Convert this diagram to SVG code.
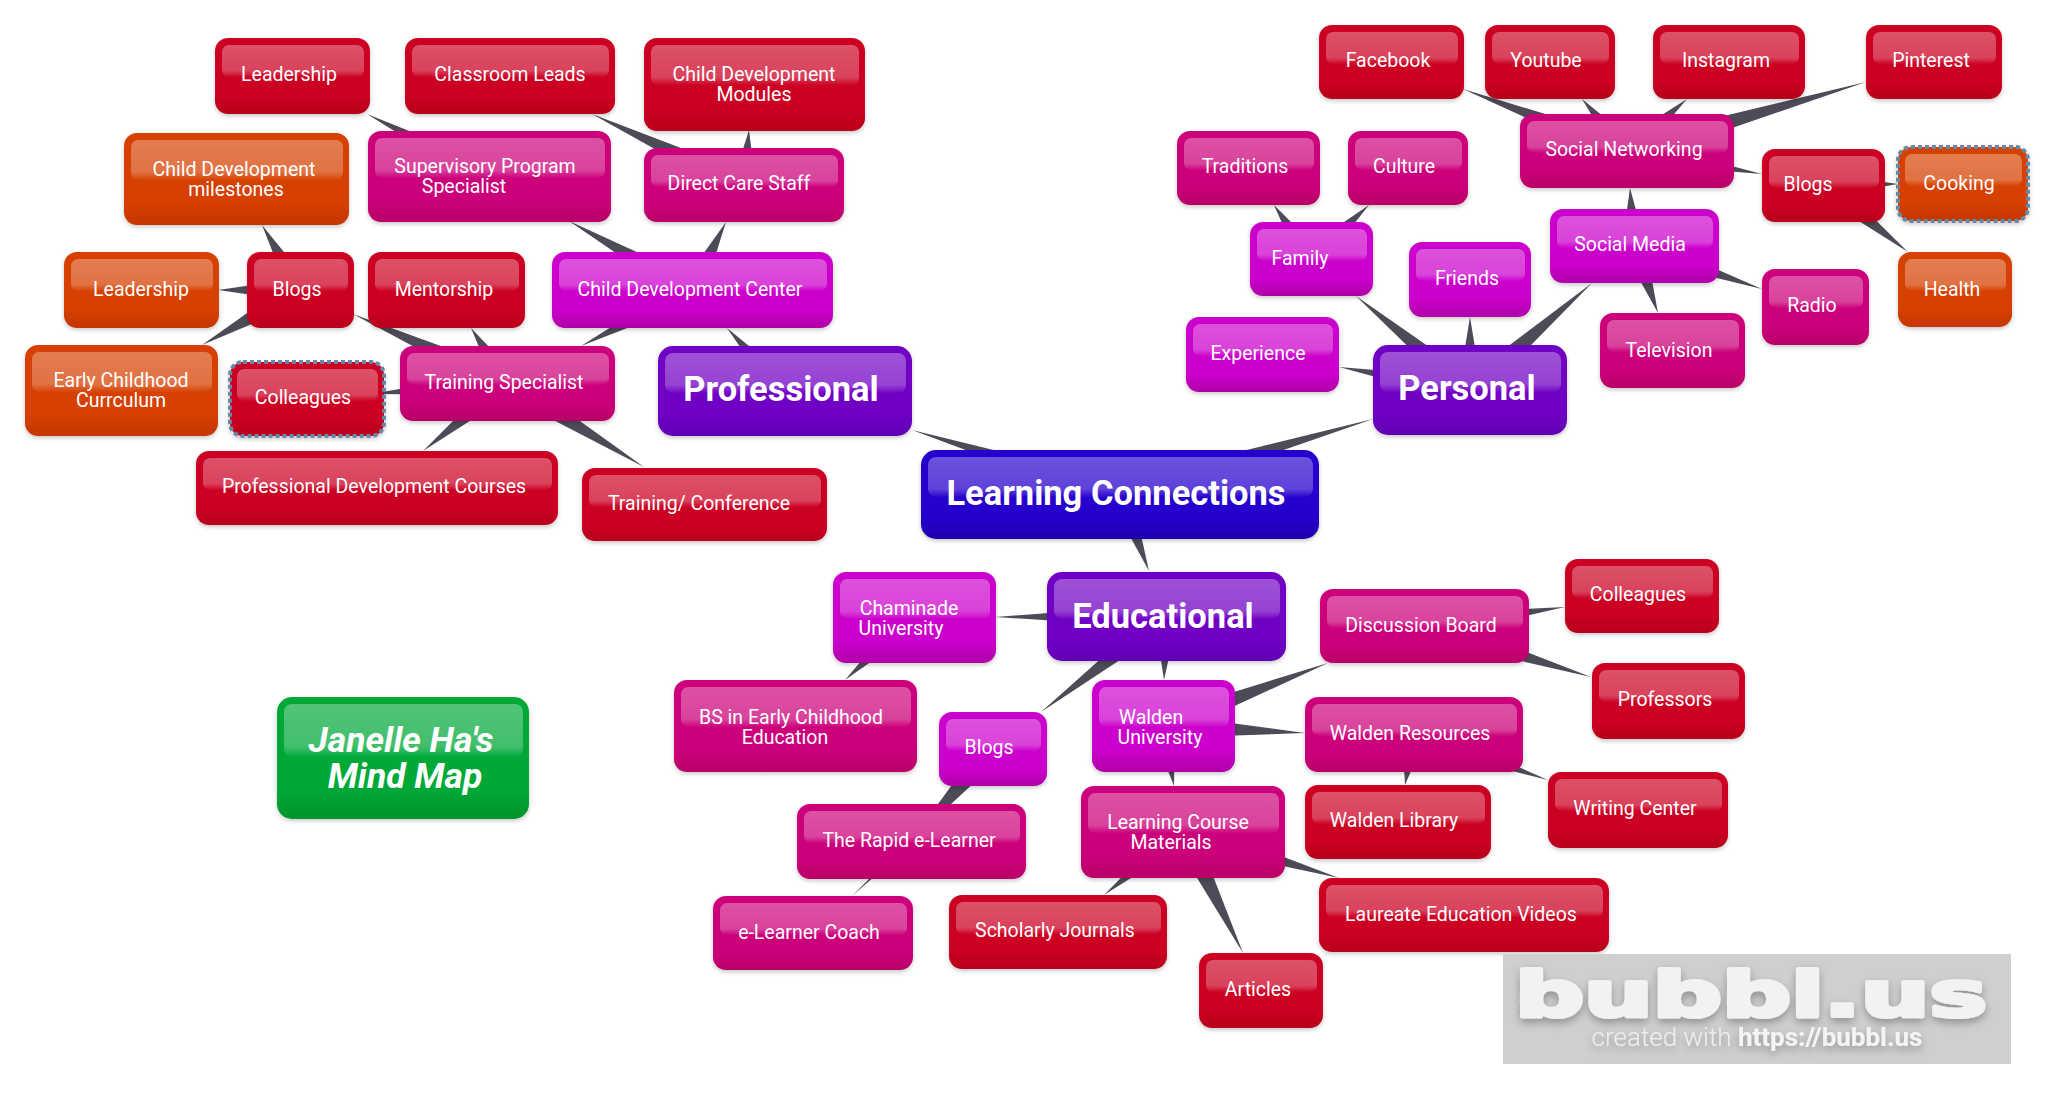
<svg xmlns="http://www.w3.org/2000/svg" width="2048" height="1101" viewBox="0 0 2048 1101">
<style>
text{font-family:Roboto,"Liberation Sans",sans-serif;fill:#fff;text-anchor:middle;font-size:19.5px}
.h1 text{font-size:34.5px;font-weight:700}
.h2 text{font-size:35.5px;font-weight:700;font-style:italic}
.body{filter:url(#sh)}
.gloss{fill:url(#gloss)}
.red{fill:url(#gRed)}.pink{fill:url(#gPink)}.mag{fill:url(#gMag)}.pur{fill:url(#gPur)}.blue{fill:url(#gBlue)}.ora{fill:url(#gOra)}.gre{fill:url(#gGre)}
.dot{stroke:#6488a8;stroke-width:4;stroke-dasharray:4 3}
#connectors polygon{fill:#4c4c58}
</style>
<defs>
<filter id="sh" x="-10%" y="-10%" width="120%" height="125%"><feDropShadow dx="0" dy="2" stdDeviation="2" flood-color="#000" flood-opacity=".22"/></filter>
<filter id="wm" x="-5%" y="-20%" width="110%" height="150%"><feDropShadow dx="0" dy="4" stdDeviation="4" flood-color="#000" flood-opacity=".3"/></filter>
<linearGradient id="gloss" x1="0" y1="0" x2="0" y2="1"><stop offset="0" stop-color="#fff" stop-opacity=".32"/><stop offset=".8" stop-color="#fff" stop-opacity=".26"/><stop offset="1" stop-color="#fff" stop-opacity=".02"/></linearGradient>
<linearGradient id="gRed" x1="0" y1="0" x2="0" y2="1"><stop offset="0" stop-color="#cc0022"/><stop offset=".75" stop-color="#cc0022"/><stop offset="1" stop-color="#b8001c"/></linearGradient>
<linearGradient id="gPink" x1="0" y1="0" x2="0" y2="1"><stop offset="0" stop-color="#cc007a"/><stop offset=".75" stop-color="#cc007a"/><stop offset="1" stop-color="#b80068"/></linearGradient>
<linearGradient id="gMag" x1="0" y1="0" x2="0" y2="1"><stop offset="0" stop-color="#cc00cc"/><stop offset=".75" stop-color="#cc00cc"/><stop offset="1" stop-color="#b000a8"/></linearGradient>
<linearGradient id="gPur" x1="0" y1="0" x2="0" y2="1"><stop offset="0" stop-color="#7000c4"/><stop offset=".75" stop-color="#7000c4"/><stop offset="1" stop-color="#6000b4"/></linearGradient>
<linearGradient id="gBlue" x1="0" y1="0" x2="0" y2="1"><stop offset="0" stop-color="#2600cc"/><stop offset=".75" stop-color="#2600cc"/><stop offset="1" stop-color="#1e00b0"/></linearGradient>
<linearGradient id="gOra" x1="0" y1="0" x2="0" y2="1"><stop offset="0" stop-color="#d64000"/><stop offset=".75" stop-color="#d64000"/><stop offset="1" stop-color="#c43600"/></linearGradient>
<linearGradient id="gGre" x1="0" y1="0" x2="0" y2="1"><stop offset="0" stop-color="#00a838"/><stop offset=".75" stop-color="#00a838"/><stop offset="1" stop-color="#00942c"/></linearGradient>
</defs>
<rect width="2048" height="1101" fill="#fff"/>
<g id="connectors">
<polygon points="1124,482 1116,506 912,430"/>
<polygon points="1123,506 1117,482 1373,419"/>
<polygon points="1109,498 1131,490 1149,571"/>
<polygon points="794,383 776,399 727,328"/>
<polygon points="687,279 697,301 581,346"/>
<polygon points="698,280 686,301 569,221"/>
<polygon points="703,295 681,285 726,222"/>
<polygon points="756,186 732,184 749,130"/>
<polygon points="749,174 739,196 592,114"/>
<polygon points="494,165 484,187 367,114"/>
<polygon points="512,372 502,394 353,314"/>
<polygon points="517,376 497,390 471,328"/>
<polygon points="506,371 508,395 370,394"/>
<polygon points="500,374 515,392 423,451"/>
<polygon points="501,393 513,373 644,467"/>
<polygon points="310,284 290,296 262,225"/>
<polygon points="300,278 300,302 218,290"/>
<polygon points="294,280 306,301 202,345"/>
<polygon points="1472,378 1468,402 1339,367"/>
<polygon points="1478,381 1462,399 1356,296"/>
<polygon points="1482,390 1458,390 1470,317"/>
<polygon points="1478,399 1462,381 1592,283"/>
<polygon points="1321,252 1301,266 1274,205"/>
<polygon points="1319,268 1303,250 1369,205"/>
<polygon points="1646,247 1622,245 1630,188"/>
<polygon points="1623,250 1645,242 1658,313"/>
<polygon points="1630,257 1638,235 1762,289"/>
<polygon points="1631,140 1623,162 1463,89"/>
<polygon points="1636,143 1618,159 1582,99"/>
<polygon points="1635,160 1619,142 1687,99"/>
<polygon points="1630,163 1624,140 1866,82"/>
<polygon points="1625,163 1629,139 1762,174"/>
<polygon points="1823,197 1823,173 1898,184"/>
<polygon points="1816,194 1831,176 1908,252"/>
<polygon points="1166,604 1166,628 995,617"/>
<polygon points="1178,616 1154,616 1164,680"/>
<polygon points="1159,607 1173,625 1041,712"/>
<polygon points="906,608 922,626 845,680"/>
<polygon points="984,741 1002,757 911,841"/>
<polygon points="909,839 913,843 852,896"/>
<polygon points="1167,737 1159,715 1328,663"/>
<polygon points="1163,714 1163,738 1305,733"/>
<polygon points="1151,728 1175,724 1174,786"/>
<polygon points="1427,638 1423,614 1565,607"/>
<polygon points="1421,638 1429,614 1591,677"/>
<polygon points="1402,732 1426,736 1405,785"/>
<polygon points="1410,745 1418,723 1548,780"/>
<polygon points="1175,823 1190,841 1104,895"/>
<polygon points="1180,844 1186,820 1339,878"/>
<polygon points="1172,837 1194,827 1243,953"/>
</g>
<g id="n-learning-connections" class="h1"><rect class="body blue" x="921" y="450" width="398" height="89" rx="15"/><rect class="gloss" x="928" y="457" width="385" height="40" rx="8"/><text x="1116" y="505">Learning Connections</text></g>
<g id="n-professional" class="h1"><rect class="body pur" x="658" y="346" width="254" height="90" rx="15"/><rect class="gloss" x="665" y="353" width="241" height="40" rx="8"/><text x="781" y="401">Professional</text></g>
<g id="n-personal" class="h1"><rect class="body pur" x="1373" y="345" width="194" height="90" rx="15"/><rect class="gloss" x="1380" y="352" width="181" height="40" rx="8"/><text x="1467" y="400">Personal</text></g>
<g id="n-educational" class="h1"><rect class="body pur" x="1047" y="572" width="239" height="89" rx="15"/><rect class="gloss" x="1054" y="579" width="226" height="40" rx="8"/><text x="1163" y="628">Educational</text></g>
<g id="n-title" class="h2"><rect class="body gre" x="277" y="697" width="252" height="122" rx="15"/><rect class="gloss" x="284" y="704" width="239" height="53" rx="8"/><text x="401" y="752">Janelle Ha's</text><text x="405" y="788">Mind Map</text></g>
<g id="n-leadership-top"><rect class="body red" x="215" y="38" width="155" height="76" rx="13"/><rect class="gloss" x="222" y="45" width="142" height="32" rx="7"/><text x="289" y="81">Leadership</text></g>
<g id="n-classroom-leads"><rect class="body red" x="405" y="38" width="210" height="76" rx="13"/><rect class="gloss" x="412" y="45" width="197" height="32" rx="7"/><text x="510" y="81">Classroom Leads</text></g>
<g id="n-cd-modules"><rect class="body red" x="644" y="38" width="221" height="93" rx="13"/><rect class="gloss" x="651" y="45" width="208" height="40" rx="7"/><text x="754" y="81">Child Development</text><text x="754" y="101">Modules</text></g>
<g id="n-supervisory"><rect class="body pink" x="368" y="131" width="243" height="91" rx="13"/><rect class="gloss" x="375" y="138" width="230" height="40" rx="7"/><text x="485" y="173">Supervisory Program</text><text x="464" y="193">Specialist</text></g>
<g id="n-direct-care"><rect class="body pink" x="644" y="148" width="200" height="74" rx="13"/><rect class="gloss" x="651" y="155" width="187" height="32" rx="7"/><text x="739" y="190">Direct Care Staff</text></g>
<g id="n-cd-milestones"><rect class="body ora" x="124" y="133" width="225" height="92" rx="13"/><rect class="gloss" x="131" y="140" width="212" height="40" rx="7"/><text x="234" y="176">Child Development</text><text x="236" y="196">milestones</text></g>
<g id="n-blogs-left"><rect class="body red" x="247" y="252" width="107" height="76" rx="13"/><rect class="gloss" x="254" y="259" width="94" height="32" rx="7"/><text x="297" y="296">Blogs</text></g>
<g id="n-leadership-left"><rect class="body ora" x="64" y="252" width="155" height="76" rx="13"/><rect class="gloss" x="71" y="259" width="142" height="32" rx="7"/><text x="141" y="296">Leadership</text></g>
<g id="n-mentorship"><rect class="body red" x="368" y="252" width="157" height="76" rx="13"/><rect class="gloss" x="375" y="259" width="144" height="32" rx="7"/><text x="444" y="296">Mentorship</text></g>
<g id="n-cd-center"><rect class="body mag" x="552" y="252" width="281" height="76" rx="13"/><rect class="gloss" x="559" y="259" width="268" height="32" rx="7"/><text x="690" y="296">Child Development Center</text></g>
<g id="n-early-childhood"><rect class="body ora" x="25" y="345" width="193" height="91" rx="13"/><rect class="gloss" x="32" y="352" width="180" height="40" rx="7"/><text x="121" y="387">Early Childhood</text><text x="121" y="407">Currculum</text></g>
<g id="n-colleagues-left"><rect class="body red dot" x="230" y="362" width="154" height="74" rx="13"/><rect class="gloss" x="237" y="369" width="141" height="32" rx="7"/><text x="303" y="404">Colleagues</text></g>
<g id="n-training-specialist"><rect class="body pink" x="400" y="346" width="215" height="75" rx="13"/><rect class="gloss" x="407" y="353" width="202" height="32" rx="7"/><text x="504" y="389">Training Specialist</text></g>
<g id="n-pd-courses"><rect class="body red" x="196" y="451" width="362" height="74" rx="13"/><rect class="gloss" x="203" y="458" width="349" height="32" rx="7"/><text x="374" y="493">Professional Development Courses</text></g>
<g id="n-training-conf"><rect class="body red" x="582" y="468" width="245" height="73" rx="13"/><rect class="gloss" x="589" y="475" width="232" height="32" rx="7"/><text x="699" y="510">Training/ Conference</text></g>
<g id="n-experience"><rect class="body mag" x="1186" y="317" width="153" height="75" rx="13"/><rect class="gloss" x="1193" y="324" width="140" height="32" rx="7"/><text x="1258" y="360">Experience</text></g>
<g id="n-friends"><rect class="body mag" x="1409" y="242" width="122" height="75" rx="13"/><rect class="gloss" x="1416" y="249" width="109" height="32" rx="7"/><text x="1467" y="285">Friends</text></g>
<g id="n-family"><rect class="body mag" x="1250" y="222" width="123" height="74" rx="13"/><rect class="gloss" x="1257" y="229" width="110" height="32" rx="7"/><text x="1300" y="265">Family</text></g>
<g id="n-traditions"><rect class="body pink" x="1177" y="131" width="143" height="74" rx="13"/><rect class="gloss" x="1184" y="138" width="130" height="32" rx="7"/><text x="1245" y="173">Traditions</text></g>
<g id="n-culture"><rect class="body pink" x="1348" y="131" width="120" height="74" rx="13"/><rect class="gloss" x="1355" y="138" width="107" height="32" rx="7"/><text x="1404" y="173">Culture</text></g>
<g id="n-social-media"><rect class="body mag" x="1550" y="209" width="169" height="74" rx="13"/><rect class="gloss" x="1557" y="216" width="156" height="32" rx="7"/><text x="1630" y="251">Social Media</text></g>
<g id="n-television"><rect class="body pink" x="1600" y="313" width="145" height="75" rx="13"/><rect class="gloss" x="1607" y="320" width="132" height="32" rx="7"/><text x="1669" y="357">Television</text></g>
<g id="n-radio"><rect class="body pink" x="1762" y="269" width="107" height="76" rx="13"/><rect class="gloss" x="1769" y="276" width="94" height="32" rx="7"/><text x="1812" y="312">Radio</text></g>
<g id="n-social-networking"><rect class="body pink" x="1520" y="114" width="214" height="74" rx="13"/><rect class="gloss" x="1527" y="121" width="201" height="32" rx="7"/><text x="1624" y="156">Social Networking</text></g>
<g id="n-blogs-right"><rect class="body red" x="1762" y="149" width="123" height="73" rx="13"/><rect class="gloss" x="1769" y="156" width="110" height="32" rx="7"/><text x="1808" y="191">Blogs</text></g>
<g id="n-cooking"><rect class="body ora dot" x="1898" y="147" width="130" height="74" rx="13"/><rect class="gloss" x="1905" y="154" width="117" height="32" rx="7"/><text x="1959" y="190">Cooking</text></g>
<g id="n-health"><rect class="body ora" x="1898" y="252" width="114" height="75" rx="13"/><rect class="gloss" x="1905" y="259" width="101" height="32" rx="7"/><text x="1952" y="296">Health</text></g>
<g id="n-facebook"><rect class="body red" x="1319" y="25" width="145" height="74" rx="13"/><rect class="gloss" x="1326" y="32" width="132" height="32" rx="7"/><text x="1388" y="67">Facebook</text></g>
<g id="n-youtube"><rect class="body red" x="1485" y="25" width="130" height="74" rx="13"/><rect class="gloss" x="1492" y="32" width="117" height="32" rx="7"/><text x="1546" y="67">Youtube</text></g>
<g id="n-instagram"><rect class="body red" x="1653" y="25" width="152" height="74" rx="13"/><rect class="gloss" x="1660" y="32" width="139" height="32" rx="7"/><text x="1726" y="67">Instagram</text></g>
<g id="n-pinterest"><rect class="body red" x="1866" y="25" width="136" height="74" rx="13"/><rect class="gloss" x="1873" y="32" width="123" height="32" rx="7"/><text x="1931" y="67">Pinterest</text></g>
<g id="n-chaminade"><rect class="body mag" x="833" y="572" width="163" height="91" rx="13"/><rect class="gloss" x="840" y="579" width="150" height="40" rx="7"/><text x="909" y="615">Chaminade</text><text x="901" y="635">University</text></g>
<g id="n-discussion-board"><rect class="body pink" x="1320" y="589" width="209" height="74" rx="13"/><rect class="gloss" x="1327" y="596" width="196" height="32" rx="7"/><text x="1421" y="632">Discussion Board</text></g>
<g id="n-colleagues-right"><rect class="body red" x="1565" y="559" width="154" height="74" rx="13"/><rect class="gloss" x="1572" y="566" width="141" height="32" rx="7"/><text x="1638" y="601">Colleagues</text></g>
<g id="n-professors"><rect class="body red" x="1592" y="663" width="153" height="76" rx="13"/><rect class="gloss" x="1599" y="670" width="140" height="32" rx="7"/><text x="1665" y="706">Professors</text></g>
<g id="n-bs-ece"><rect class="body pink" x="674" y="680" width="243" height="92" rx="13"/><rect class="gloss" x="681" y="687" width="230" height="40" rx="7"/><text x="791" y="724">BS in Early Childhood</text><text x="785" y="744">Education</text></g>
<g id="n-blogs-edu"><rect class="body mag" x="939" y="712" width="108" height="74" rx="13"/><rect class="gloss" x="946" y="719" width="95" height="32" rx="7"/><text x="989" y="754">Blogs</text></g>
<g id="n-walden"><rect class="body mag" x="1092" y="680" width="143" height="92" rx="13"/><rect class="gloss" x="1099" y="687" width="130" height="40" rx="7"/><text x="1151" y="724">Walden</text><text x="1160" y="744">University</text></g>
<g id="n-walden-resources"><rect class="body pink" x="1305" y="697" width="218" height="75" rx="13"/><rect class="gloss" x="1312" y="704" width="205" height="32" rx="7"/><text x="1410" y="740">Walden Resources</text></g>
<g id="n-walden-library"><rect class="body red" x="1305" y="785" width="186" height="74" rx="13"/><rect class="gloss" x="1312" y="792" width="173" height="32" rx="7"/><text x="1394" y="827">Walden Library</text></g>
<g id="n-writing-center"><rect class="body red" x="1548" y="772" width="180" height="76" rx="13"/><rect class="gloss" x="1555" y="779" width="167" height="32" rx="7"/><text x="1635" y="815">Writing Center</text></g>
<g id="n-course-materials"><rect class="body pink" x="1081" y="786" width="204" height="92" rx="13"/><rect class="gloss" x="1088" y="793" width="191" height="40" rx="7"/><text x="1178" y="829">Learning Course</text><text x="1171" y="849">Materials</text></g>
<g id="n-rapid"><rect class="body pink" x="797" y="804" width="229" height="75" rx="13"/><rect class="gloss" x="804" y="811" width="216" height="32" rx="7"/><text x="909" y="847">The Rapid e-Learner</text></g>
<g id="n-coach"><rect class="body pink" x="713" y="896" width="200" height="74" rx="13"/><rect class="gloss" x="720" y="903" width="187" height="32" rx="7"/><text x="809" y="939">e-Learner Coach</text></g>
<g id="n-journals"><rect class="body red" x="949" y="895" width="218" height="74" rx="13"/><rect class="gloss" x="956" y="902" width="205" height="32" rx="7"/><text x="1055" y="937">Scholarly Journals</text></g>
<g id="n-laureate"><rect class="body red" x="1319" y="878" width="290" height="74" rx="13"/><rect class="gloss" x="1326" y="885" width="277" height="32" rx="7"/><text x="1461" y="921">Laureate Education Videos</text></g>
<g id="n-articles"><rect class="body red" x="1199" y="953" width="124" height="75" rx="13"/><rect class="gloss" x="1206" y="960" width="111" height="32" rx="7"/><text x="1258" y="996">Articles</text></g>
<g id="watermark"><rect x="1503" y="954" width="508" height="110" fill="#cfcfcf"/><text x="1751" y="1016" filter="url(#wm)" style="font-family:'DejaVu Sans',sans-serif;font-weight:700;font-size:62px;fill:#f2f2f2;stroke:#f2f2f2;stroke-width:4;stroke-linejoin:round" textLength="472" lengthAdjust="spacingAndGlyphs">bubbl.us</text><text x="1757" y="1046" filter="url(#wm)" style="font-size:26px;font-weight:300;fill:#eee">created with <tspan font-weight="700" fill="#f4f4f4">https://bubbl.us</tspan></text></g>
</svg>
